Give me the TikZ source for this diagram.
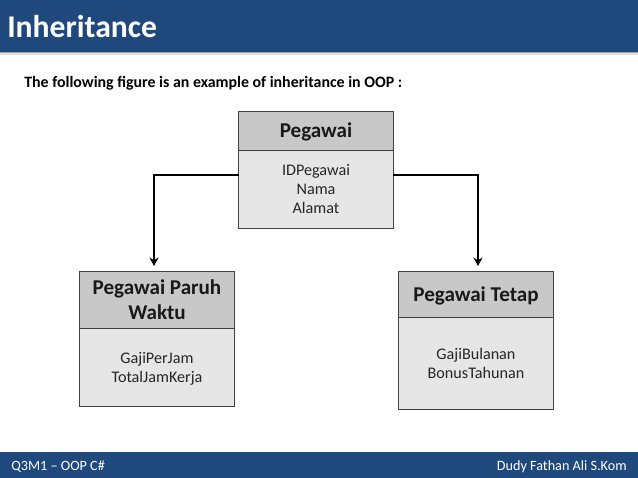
\documentclass[tikz,border=0pt]{standalone}
\usepackage{fontspec}
\setmainfont{Carlito}
\usepackage{xcolor}
\usetikzlibrary{positioning,calc,arrows.meta}
\definecolor{barblue}{RGB}{31,73,125}
\definecolor{headgray}{RGB}{200,200,200}
\definecolor{bodygray}{RGB}{230,230,230}
\definecolor{edgegray}{RGB}{64,64,64}
\tikzset{
    headbox/.style={draw=edgegray, line width=0.7pt, fill=headgray, minimum width=3.85cm, align=center, inner sep=0pt, outer sep=0pt, text depth=0pt, font=\fontsize{15}{18}\selectfont\bfseries, text=black!90},
    bodybox/.style={draw=edgegray, line width=0.7pt, fill=bodygray, minimum width=3.85cm, align=center, inner sep=0pt, outer sep=0pt, font=\fontsize{11.5}{13.5}\selectfont, text=black!85},
    conn/.style={line width=1.5pt, -{Stealth[length=6pt,width=6.5pt]}}
}
\begin{document}
\begin{tikzpicture}[x=0.025cm,y=-0.025cm]
    \useasboundingbox (0,0) rectangle (638,478);
    \fill[white] (0,0) rectangle (638,478);

    % Bars
    \fill[black!12] (0,52) rectangle (638,55);
    \fill[black!35] (0,52) rectangle (638,53.5);
    \fill[barblue] (0,0) rectangle (638,52);
    \fill[barblue] (0,452) rectangle (638,478);
    \node[anchor=west, text=white, inner sep=0pt, font=\fontsize{22.5}{24}\selectfont\bfseries] (title) at (7,27) {Inheritance};
    \node[anchor=west, text=white, inner sep=0pt, font=\fontsize{10.1}{12}\selectfont] (course) at (11,467) {Q3M1 – OOP C\#};
    \node[anchor=east, text=white, inner sep=0pt, font=\fontsize{10.1}{12}\selectfont] (author) at (627,467) {Dudy Fathan Ali S.Kom};

    % Intro
    \node[anchor=west, inner sep=0pt, font=\fontsize{11.3}{12}\selectfont\bfseries] (intro) at (24,83) {The following figure is an example of inheritance in OOP :};

    % Base class
    \node[headbox, minimum height=0.975cm, anchor=north] (pegawai) at (316,111) {Pegawai};
    \node[bodybox, minimum height=1.95cm, text depth=0pt, below=0pt of pegawai] (pegawaiBody) {IDPegawai\\Nama\\Alamat};

    % Derived classes
    \node[headbox, minimum height=1.425cm, anchor=north] (paruh) at (157,271) {Pegawai Paruh\\Waktu};
    \node[bodybox, minimum height=1.95cm, text depth=0pt, below=0pt of paruh] (paruhBody) {GajiPerJam\\TotalJamKerja};
    \node[headbox, minimum height=1.15cm, anchor=north] (tetap) at (476,271) {Pegawai Tetap};
    \node[bodybox, minimum height=2.3cm, below=0pt of tetap] (tetapBody) {GajiBulanan\\BonusTahunan};

    % Connectors
    \draw[conn] ([yshift=0.35cm]pegawaiBody.west) -| ([xshift=-0.075cm,yshift=0.125cm]paruh.north);
    \draw[conn] ([yshift=0.35cm]pegawaiBody.east) -| ([xshift=0.05cm,yshift=0.125cm]tetap.north);
\end{tikzpicture}
\end{document}
